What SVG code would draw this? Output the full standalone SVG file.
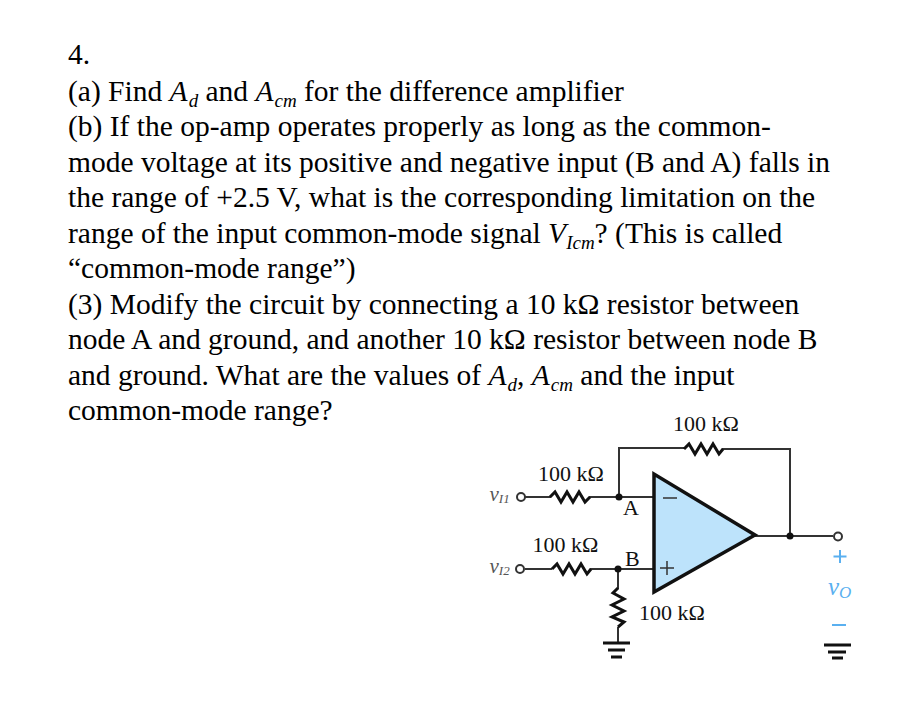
<svg xmlns="http://www.w3.org/2000/svg" width="907" height="702" viewBox="0 0 907 702">
<style>
.t{font-family:"Liberation Serif","Times New Roman",serif;font-size:29.5px;fill:#000}
.i{font-style:italic}
.s{font-style:italic;font-size:19px}
.l{font-family:"Liberation Serif","Times New Roman",serif;font-size:22px;fill:#111}
.v{font-family:"Liberation Serif","Times New Roman",serif;font-style:italic;fill:#555}
.w{fill:none;stroke:#333;stroke-width:2}
.r{fill:none;stroke:#111;stroke-width:3;stroke-linejoin:miter}
.g{stroke:#111;stroke-width:3}
.d{fill:#111}
.o{fill:#fff;stroke:#333;stroke-width:2}
</style>
<rect width="907" height="702" fill="#fff"/>
<g id="question">
<text class="t" x="68" y="64">4.</text>
<text class="t" x="68" y="100.500">(a) Find <tspan class="i">A</tspan><tspan class="s" dx="1" dy="6.500">d</tspan><tspan dy="-6.500"> and </tspan><tspan class="i">A</tspan><tspan class="s" dx="1" dy="6.500">cm</tspan><tspan dy="-6.500"> for the difference amplifier</tspan></text>
<text class="t" x="68" y="135.500">(b) If the op-amp operates properly as long as the common-</text>
<text class="t" x="68" y="171.500">mode voltage at its positive and negative input (B and A) falls in</text>
<text class="t" x="68" y="206.500">the range of +2.5 V, what is the corresponding limitation on the</text>
<text class="t" x="68" y="242.500">range of the input common-mode signal <tspan class="i">V</tspan><tspan class="s" dy="6.500">Icm</tspan><tspan dy="-6.500">? (This is called</tspan></text>
<text class="t" x="68" y="277.500">“common-mode range”)</text>
<text class="t" x="68" y="313.500">(3) Modify the circuit by connecting a 10 kΩ resistor between</text>
<text class="t" x="68" y="348.500">node A and ground, and another 10 kΩ resistor between node B</text>
<text class="t" x="68" y="384.500">and ground. What are the values of <tspan class="i">A</tspan><tspan class="s" dx="1" dy="6.500">d</tspan><tspan dy="-6.500">, </tspan><tspan class="i">A</tspan><tspan class="s" dx="1" dy="6.500">cm</tspan><tspan dy="-6.500"> and the input</tspan></text>
<text class="t" x="68" y="420">common-mode range?</text>
</g>
<g id="connectors">
<path class="w" d="M525 497H551M589 497H654M619 497V448H684M722 449H790V536M755 536H833M525 569H552M590 569H654M618 569V589M618 627V643"/>
</g>
<g id="r1"><path class="r" d="M550 497L555 492L561 502L567 492L573 502L579 492L585 502L590 497"/><text class="l" x="538" y="481">100 kΩ</text></g>
<g id="r2"><path class="r" d="M552 569L557 564L563 574L569 564L575 574L581 564L587 574L591 569"/><text class="l" x="532.500" y="551.500">100 kΩ</text></g>
<g id="r3"><path class="r" d="M618 588L613 593L624 599L612 605L624 611L612 617L624 622L618 627"/><text class="l" x="639" y="620">100 kΩ</text></g>
<g id="rf"><path class="r" d="M684 449L689 444L695 454L701 444L707 454L713 444L719 454L723 449"/><text class="l" x="673" y="431">100 kΩ</text></g>
<g id="opamp">
<path d="M654 474V592L755 535Z" fill="#bde3fb" stroke="#111" stroke-width="3.500" stroke-linejoin="miter"/>
<path d="M663 498H677M660 568H674M667 561V575" stroke="#333" stroke-width="1.500" fill="none"/>
</g>
<g id="vi1"><circle class="o" cx="521" cy="497" r="4"/><text class="v" x="489.500" y="501" font-size="21">v<tspan font-size="13" dy="2">I1</tspan></text></g>
<g id="vi2"><circle class="o" cx="520" cy="569" r="4"/><text class="v" x="489.500" y="572.500" font-size="21">v<tspan font-size="13" dy="2">I2</tspan></text></g>
<g id="nodeA"><circle class="d" cx="619" cy="497" r="3.500"/><text class="l" x="623" y="515">A</text></g>
<g id="nodeB"><circle class="d" cx="618" cy="569" r="3.500"/><text class="l" x="625" y="566">B</text></g>
<g id="gnd1"><path class="g" d="M603 643H630M608 650H625M611 657H622"/></g>
<g id="vo"><circle class="d" cx="790" cy="536" r="3.500"/><circle class="o" cx="838" cy="536.500" r="4"/>
<path d="M840 550V563M833.500 556.500H846.500M832 625H846" stroke="#5ab0f0" stroke-width="2" fill="none"/>
<text x="828" y="595" font-family="Liberation Serif" font-style="italic" font-size="25" fill="#5ab0f0">v<tspan font-size="17" dy="3">O</tspan></text></g>
<g id="gnd2"><path class="g" d="M824 645H851M828 652H846M832 658H843"/></g>
</svg>
